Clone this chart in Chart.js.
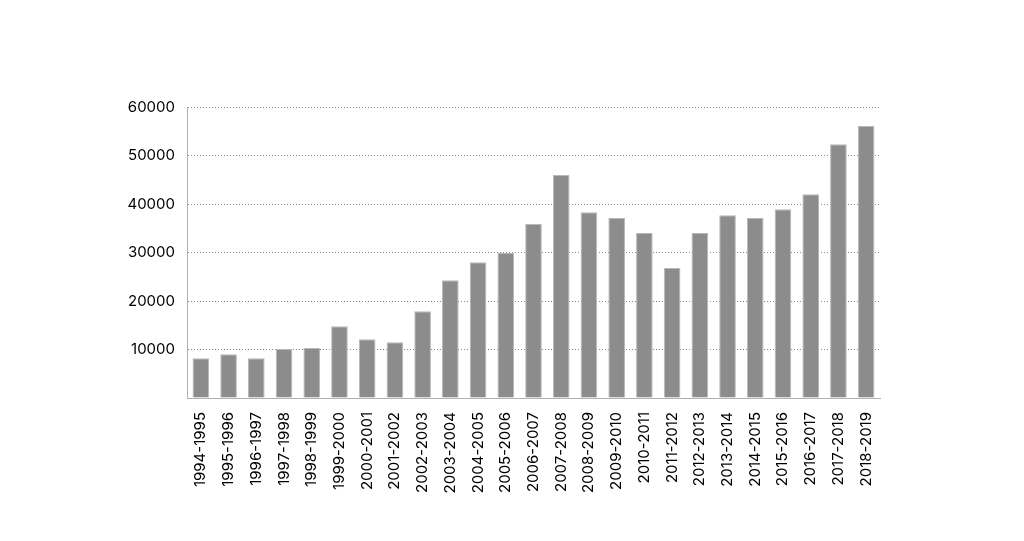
<!DOCTYPE html>
<html lang="en">
    <head>
        <meta charset="UTF-8" />
        <title>Yearly totals 1994-2019</title>
        <script src="https://cdn.jsdelivr.net/npm/chart.js"></script>
        <style>
            html, body { margin: 0; padding: 0; background: #fff; }
            #wrap { width: 1024px; height: 541px; position: relative; }
        </style>
    </head>
    <body>
        <div id="wrap"><canvas id="barChart"></canvas></div>

        <script>
            const seasons = [
                "1994-1995", "1995-1996", "1996-1997", "1997-1998", "1998-1999",
                "1999-2000", "2000-2001", "2001-2002", "2002-2003", "2003-2004",
                "2004-2005", "2005-2006", "2006-2007", "2007-2008", "2008-2009",
                "2009-2010", "2010-2011", "2011-2012", "2012-2013", "2013-2014",
                "2014-2015", "2015-2016", "2016-2017", "2017-2018", "2018-2019",
            ];
            const totals = [
                8200, 9000, 8200, 10100, 10300,
                14800, 12100, 11500, 17900, 24300,
                28000, 29900, 35900, 46000, 38300,
                37100, 34000, 26800, 34000, 37700,
                37100, 38900, 42000, 52300, 56100,
            ];
            const yTicks = { min: 0, max: 60000, step: 10000 };

            const ctx = document.getElementById("barChart").getContext("2d");
            const font = { family: "Inter, 'Liberation Sans', sans-serif", size: 15 };

            new Chart(ctx, {
                type: "bar",
                data: {
                    labels: seasons,
                    datasets: [
                        {
                            data: totals,
                            backgroundColor: "#8c8c8c",
                            borderColor: "#b8b8b8",
                            borderWidth: 1,
                            categoryPercentage: 0.6,
                            barPercentage: 1,
                        },
                    ],
                },
                options: {
                    responsive: true,
                    maintainAspectRatio: false,
                    animation: false,
                    layout: { padding: { top: 107, right: 144, bottom: 0, left: 0 } },
                    plugins: { legend: { display: false }, tooltip: { enabled: false } },
                    scales: {
                        x: {
                            grid: { display: false },
                            border: { display: true, color: "#b0b0b0", width: 1 },
                            ticks: {
                                color: "#000",
                                font: font,
                                minRotation: 90,
                                maxRotation: 90,
                                autoSkip: false,
                                padding: 6,
                            },
                            afterFit(scale) { scale.height = 143; },
                        },
                        y: {
                            min: yTicks.min,
                            max: yTicks.max,
                            border: { display: true, color: "#b0b0b0", width: 1, dash: [1, 2] },
                            grid: {
                                color: (c) => (c.tick.value === 0 ? "rgba(0,0,0,0)" : "#8a8a8a"),
                                drawTicks: false,
                                lineWidth: 1,
                            },
                            ticks: {
                                stepSize: yTicks.step,
                                color: "#000",
                                font: font,
                                padding: 12,
                                callback: (v) => (v === 0 ? "" : String(v)),
                            },
                            afterFit(scale) { scale.width = 187; },
                        },
                    },
                },
            });
        </script>
    </body>
</html>
